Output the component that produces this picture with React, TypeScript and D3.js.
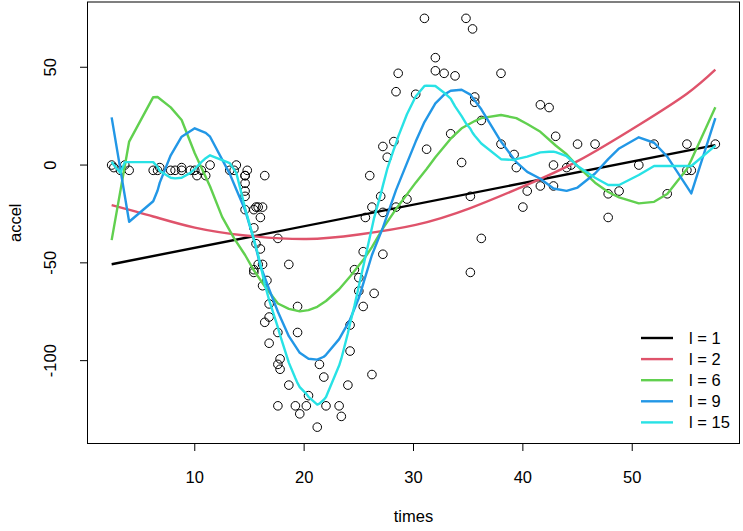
import * as d3 from "d3";

// mcycle: time after impact (ms) and head acceleration (g)
const times = [
  2.4, 2.6, 3.2, 3.6, 4.0, 6.2, 6.6, 6.8, 7.8, 8.2, 8.8, 8.8, 9.6, 10.0, 10.2, 10.6, 11.0, 11.4, 13.2, 13.6,
  13.8, 14.6, 14.6, 14.6, 14.6, 14.6, 14.6, 14.8, 15.4, 15.4, 15.4, 15.4, 15.6, 15.6, 15.8, 15.8, 16.0, 16.0,
  16.2, 16.2, 16.2, 16.4, 16.4, 16.6, 16.8, 16.8, 16.8, 17.6, 17.6, 17.6, 17.6, 17.8, 17.8, 18.6, 18.6, 19.2,
  19.4, 19.4, 19.6, 20.2, 20.4, 21.2, 21.4, 21.8, 22.0, 23.2, 23.4, 24.0, 24.2, 24.2, 24.6, 25.0, 25.0, 25.4,
  25.4, 25.6, 26.0, 26.2, 26.2, 26.4, 27.0, 27.2, 27.2, 27.2, 27.6, 28.2, 28.4, 28.4, 28.6, 29.4, 30.2, 31.0,
  31.2, 32.0, 32.0, 32.8, 33.4, 33.8, 34.4, 34.8, 35.2, 35.2, 35.4, 35.6, 35.6, 36.2, 36.2, 38.0, 38.0, 39.2,
  39.4, 40.0, 40.4, 41.6, 41.6, 42.4, 42.8, 42.8, 43.0, 44.0, 44.4, 45.0, 46.6, 47.8, 47.8, 48.8, 50.6, 52.0,
  53.2, 55.0, 55.0, 55.4, 57.6,
];
const accel = [
  0.0, -1.3, -2.7, 0.0, -2.7, -2.7, -2.7, -1.3, -2.7, -2.7, -1.3, -2.7, -2.7, -2.7, -5.4, -2.7, -5.4, 0.0, -2.7,
  -2.7, 0.0, -13.3, -5.4, -5.4, -9.3, -16.0, -22.8, -2.7, -22.8, -32.1, -53.5, -54.9, -40.2, -21.5, -21.5,
  -50.8, -42.9, -26.8, -21.5, -50.8, -61.7, -5.4, -80.4, -59.0, -71.0, -91.1, -77.7, -37.5, -85.6, -123.1,
  -101.9, -99.1, -104.4, -112.5, -50.8, -123.1, -85.6, -72.3, -127.2, -123.1, -117.9, -134.0, -101.9, -108.4,
  -123.1, -123.1, -128.5, -112.5, -95.1, -81.8, -53.5, -64.4, -57.6, -72.3, -44.3, -26.8, -5.4, -107.1, -21.5,
  -65.6, -16.0, -45.6, -24.2, 9.5, 4.0, 12.0, -21.5, 37.5, 46.9, -17.4, 36.2, 75.0, 8.1, 54.9, 48.2, 46.9, 16.0,
  45.6, 1.3, 75.0, -16.0, -54.9, 69.6, 34.8, 32.1, -37.5, 22.8, 46.9, 10.7, 5.4, -1.3, -21.5, -13.3, 30.8, -10.7,
  29.4, 0.0, -10.7, 14.7, -1.3, 0.0, 10.7, 10.7, -26.8, -14.7, -13.3, 0.0, 10.7, -14.7, -2.7, 10.7, -2.7, 10.7,
];

// fitted curves
const fit1Times = [2.4, 57.6];
const fit1 = [-50.7, 10.2];

const fit2Times = [2.4, 6.2, 10.0, 14.6, 20.2, 25.0, 30.2, 35.2, 40.0, 45.0, 50.6, 55.0, 57.6];
const fit2 = [-20.5, -26.3, -32, -36, -37.8, -35.5, -30.6, -22, -11, 2, 20.5, 36.5, 48.8];

const fit6Times = [
  2.4, 4.0, 6.2, 6.6, 7.8, 8.8, 10.0, 11.4, 12.5, 13.6, 14.6, 15.4, 16.4, 17.6, 18.6, 19.6, 20.4, 21.2, 22.0,
  23.2, 24.2, 25.4, 26.2, 27.2, 28.4, 29.4, 30.2, 31.2, 32.0, 33.4, 34.4, 35.6, 36.2, 38.0, 39.4, 40.4, 41.6,
  43.0, 44.0, 45.0, 46.6, 47.8, 48.8, 50.6, 52.0, 53.2, 55.0, 55.4, 57.6,
];
const fit6 = [
  -38.4, 12, 34.7, 34.8, 29.5, 23, 6, -11, -26.5, -37.5, -46, -53.8, -62, -70.8, -73.5, -74.8, -74.2, -72.5,
  -69.5, -63.5, -57, -48.6, -42, -32.4, -22.5, -15, -9, -2, 4, 13.5, 18.8, 22.5, 24, 25.6, 24, 21, 17, 10, 5.5,
  -0.5, -9, -13.8, -16.5, -19.6, -18.8, -14.8, -2, 2.6, 29.5,
];

const fit9Times = [
  2.4, 4.0, 6.2, 6.6, 6.8, 7.8, 8.8, 10.0, 11.0, 11.4, 13.2, 13.8, 14.6, 15.4, 16.0, 16.4, 16.8, 17.6, 18.6,
  19.6, 20.4, 21.2, 21.8, 22.0, 23.2, 24.2, 25.0, 25.6, 26.2, 27.2, 28.4, 29.4, 30.2, 31.0, 32.0, 32.8, 33.4,
  34.4, 35.2, 36.2, 38.0, 39.4, 40.4, 41.6, 42.8, 44.0, 45.0, 46.6, 47.8, 48.8, 50.6, 52.0, 53.2, 55.0, 55.4,
  57.6,
];
const fit9 = [
  24.4, -29, -18.5, -13, -9, 5, 14.5, 18.8, 16.5, 14.5, -4.5, -12.5, -23, -38, -51.5, -57.5, -63.5, -75, -87.5,
  -96, -99, -99.5, -98, -97, -89, -79, -68, -57, -46, -32, -12.8, 1, 12, 22, 31.5, 36, 38, 38.5, 36, 28.5, 12,
  1.5, -3.5, -7, -12, -13.2, -11.5, -4.3, 3, 8.5, 14.2, 11.4, 4.3, -11, -14.5, 24,
];

const fit15Times = [
  2.4, 2.6, 3.2, 3.6, 4.0, 6.2, 6.6, 6.8, 7.8, 8.2, 8.8, 9.6, 10.0, 10.6, 11.0, 11.4, 13.2, 13.8, 14.6, 14.8,
  15.4, 15.6, 15.8, 16.0, 16.2, 16.4, 16.6, 16.8, 17.6, 17.8, 18.6, 19.2, 19.4, 19.6, 20.2, 20.4, 21.2, 21.4,
  21.8, 22.0, 23.2, 23.4, 24.0, 24.2, 24.6, 25.0, 25.4, 25.6, 26.0, 26.2, 26.4, 27.0, 27.2, 27.6, 28.2, 28.4,
  28.6, 29.4, 30.2, 31.0, 31.2, 32.0, 32.8, 33.4, 33.8, 34.4, 34.8, 35.2, 35.4, 35.6, 36.2, 38.0, 39.2, 39.4,
  40.0, 40.4, 41.6, 42.4, 42.8, 43.0, 44.0, 44.4, 45.0, 46.6, 47.8, 48.8, 50.6, 52.0, 53.2, 55.0, 55.4, 57.6,
];
const fit15 = [
  1.7, 0, -4, 1.5, 1.5, 1.5, -1, -3, -6.5, -6.8, -6.5, -4, -2, 1.5, 3.5, 5, 1, -4, -22, -26, -38, -42, -46, -51,
  -56, -61, -65, -69, -83, -87, -101, -109, -111.5, -113.5, -117, -118.5, -122.5, -122, -120, -118.6, -102.5,
  -99, -86, -81, -72, -62, -52, -47, -37, -32, -27, -15, -10.5, -2, 8, 11, 14.5, 26, 35, 40.4, 40.6, 40.4, 37,
  34, 30, 25, 21.3, 18.5, 16.5, 15, 11, 3, 2.6, 3, 3.8, 4.3, 6.5, 6.8, 6.8, 6.6, 4.5, 2.6, -0.5, -6.5, -10.2,
  -10.2, -5.1, -0.5, -0.5, -0.5, -0.5, 9.9,
];

const fitLabels = ["l = 1", "l = 2", "l = 6", "l = 9", "l = 15"];
const fitColors = ["#000000", "#DF536B", "#61D04F", "#2297E6", "#28E2E5"];

const xTicks = [10, 20, 30, 40, 50];
const yTicks = [-100, -50, 0, 50];

const W = 743;
const H = 531;
const box = { left: 87.5, right: 739.5, top: 2, bottom: 443.5 };

// R-style axis range: data extent plus 4% either side
function padded([lo, hi]: [number, number]): [number, number] {
  const d = (hi - lo) * 0.04;
  return [lo - d, hi + d];
}

export default function App() {
  const x = d3
    .scaleLinear()
    .domain(padded(d3.extent(times) as [number, number]))
    .range([box.left, box.right]);
  const y = d3
    .scaleLinear()
    .domain(padded(d3.extent(accel) as [number, number]))
    .range([box.bottom, box.top]);

  const fits: [number[], number[]][] = [
    [fit1Times, fit1],
    [fit2Times, fit2],
    [fit6Times, fit6],
    [fit9Times, fit9],
    [fit15Times, fit15],
  ];

  const line = d3
    .line<[number, number]>()
    .x((d) => x(d[0]))
    .y((d) => y(d[1]));

  const font = "'Liberation Sans', Arial, Helvetica, sans-serif";

  return (
    <svg
      width={W}
      height={H}
      style={{ position: "absolute", left: 0, top: 0, background: "#fff" }}
      fontFamily={font}
      fontSize={16.5}
    >
      {/* points */}
      <g fill="none" stroke="#000" strokeWidth={1}>
        {times.map((t, i) => (
          <circle key={i} cx={x(t)} cy={y(accel[i])} r={4.3} />
        ))}
      </g>

      {/* fits; the quadratic was read at few points so it gets a smooth curve */}
      <g fill="none" strokeWidth={2.4} strokeLinejoin="round">
        {fits.map(([ts, vs], k) => {
          const pts = ts.map((t, i) => [t, vs[i]] as [number, number]);
          const path = line.curve(k === 1 ? d3.curveNatural : d3.curveLinear)(pts);
          return <path key={k} d={path ?? ""} stroke={fitColors[k]} />;
        })}
      </g>

      {/* box */}
      <rect
        x={box.left}
        y={box.top}
        width={box.right - box.left}
        height={box.bottom - box.top}
        fill="none"
        stroke="#000"
        strokeWidth={1}
      />

      {/* x axis */}
      <g>
        {xTicks.map((t) => (
          <g key={t} transform={`translate(${x(t)},0)`}>
            <line y1={box.bottom} y2={box.bottom + 7.5} stroke="#000" />
            <text y={477} textAnchor="middle" dominantBaseline="central">
              {t}
            </text>
          </g>
        ))}
        <text x={(box.left + box.right) / 2} y={516} textAnchor="middle" dominantBaseline="central">
          times
        </text>
      </g>

      {/* y axis */}
      <g>
        {yTicks.map((t) => (
          <g key={t} transform={`translate(0,${y(t)})`}>
            <line x1={box.left} x2={box.left - 7.5} stroke="#000" />
            <text transform="translate(50,0) rotate(-90)" textAnchor="middle" dominantBaseline="central">
              {t}
            </text>
          </g>
        ))}
        <text
          transform={`translate(15,${(box.top + box.bottom) / 2}) rotate(-90)`}
          textAnchor="middle"
          dominantBaseline="central"
        >
          accel
        </text>
      </g>

      {/* legend */}
      <g>
        {fitLabels.map((lab, i) => {
          const ly = 338 + i * 21.1;
          return (
            <g key={lab}>
              <line x1={641} x2={673} y1={ly} y2={ly} stroke={fitColors[i]} strokeWidth={2.4} />
              <text x={689} y={ly} dominantBaseline="central">
                {lab}
              </text>
            </g>
          );
        })}
      </g>
    </svg>
  );
}
